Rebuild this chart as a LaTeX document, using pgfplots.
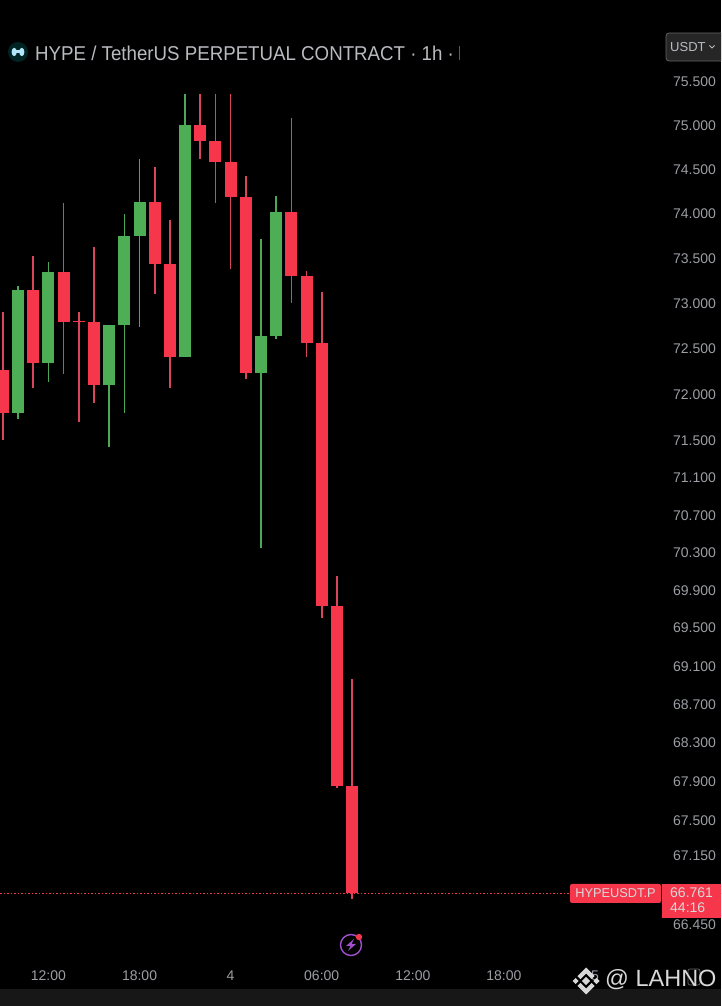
\documentclass[border=0pt]{standalone}
\usepackage{fontspec}
\setmainfont{Liberation Sans}
\newfontfamily\titlefont[FakeStretch=0.935]{Liberation Sans}
\usepackage{pgfplots}
\pgfplotsset{compat=1.18}
\definecolor{cred}{HTML}{F5364B}
\definecolor{wred}{HTML}{D9455A}
\definecolor{cgreen}{HTML}{4DAE55}
\definecolor{wgreen}{HTML}{4DA855}
\definecolor{axtxt}{HTML}{9C9EA3}
\definecolor{titletxt}{HTML}{B9BBC0}
\definecolor{bolt}{HTML}{A04FD0}
\definecolor{wm}{HTML}{D8D8D8}
% candle: colour family, hour, low, high, body bottom, body top
\newcommand\candle[6]{%
  \addplot[w#1,line width=1.6pt,forget plot] coordinates {(#2,#3)(#2,#4)};
  \addplot[c#1,line width=12pt,forget plot] coordinates {(#2,#5)(#2,#6)};
}
\begin{document}
\begin{tikzpicture}[x=1pt,y=1pt]
\path[use as bounding box] (0,0) rectangle (721,1006);
\clip (0,0) rectangle (721,1006);
\fill[black] (0,0) rectangle (721,1006);
\fill[black!91!white] (0,0) rectangle (721,17);
\begin{axis}[
  at={(0,0)},anchor=south west,scale only axis,width=721pt,height=1006pt,
  xmin=8.81,xmax=56.30,ymin=65.628,ymax=76.432,
  y coord trafo/.code={\pgfmathparse{100*ln(#1)}},
  axis line style={draw=none},major tick length=0pt,minor tick length=0pt,
  xtick={12,18,24,30,36,42,48},
  xticklabels={12:00,18:00,4,06:00,12:00,18:00,5},
  xticklabel style={anchor=center,yshift=30.5pt,font=\fontsize{14}{14}\selectfont,text=axtxt},
  ytick={75.5,75,74.5,74,73.5,73,72.5,72,71.5,71.1,70.7,70.3,69.9,69.5,69.1,68.7,68.3,67.9,67.5,67.15,66.45},
  yticklabels={75.500,75.000,74.500,74.000,73.500,73.000,72.500,72.000,71.500,71.100,70.700,70.300,69.900,69.500,69.100,68.700,68.300,67.900,67.500,67.150,66.450},
  yticklabel pos=right,
  yticklabel style={anchor=east,xshift=-1.5pt,yshift=-0.5pt,font=\fontsize{14}{14}\selectfont,text=axtxt},
  clip=false,
]
% last price line
\addplot[cred,dash pattern=on 1.5pt off 2pt,line width=1pt,forget plot] coordinates {(8.81,66.761)(56.30,66.761)};
\candle{red}{9}{71.51}{72.91}{71.805}{72.27}
\candle{green}{10}{71.73}{73.195}{71.805}{73.15}
\candle{red}{11}{72.07}{73.53}{72.345}{73.15}
\candle{green}{12}{72.14}{73.465}{72.345}{73.345}
\candle{red}{13}{72.235}{74.125}{72.80}{73.345}
\candle{red}{14}{71.71}{72.91}{72.80}{72.815}
\candle{red}{15}{71.92}{73.64}{72.105}{72.80}
\candle{green}{16}{71.43}{72.765}{72.105}{72.765}
\candle{green}{17}{71.81}{74.00}{72.765}{73.76}
\candle{green}{18}{72.745}{74.611}{73.76}{74.136}
\candle{red}{19}{73.115}{74.527}{73.436}{74.136}
\candle{red}{20}{72.07}{73.936}{72.42}{73.436}
\candle{green}{21}{72.42}{75.37}{72.42}{75.007}
\candle{red}{22}{74.611}{75.37}{74.82}{75.007}
\candle{red}{23}{74.12}{75.37}{74.58}{74.82}
\candle{red}{24}{73.39}{75.37}{74.187}{74.58}
\candle{red}{25}{72.17}{74.433}{72.24}{74.187}
\candle{green}{26}{70.35}{73.725}{72.24}{72.645}
\candle{green}{27}{72.61}{74.195}{72.645}{74.02}
\candle{red}{28}{73.01}{75.075}{73.304}{74.02}
\candle{red}{29}{72.42}{73.37}{72.57}{73.304}
\candle{red}{30}{69.60}{73.13}{69.73}{72.57}
\candle{red}{31}{67.835}{70.05}{67.855}{69.73}
\candle{red}{32}{66.70}{68.96}{66.761}{67.855}
\end{axis}
% header
\fill[black!72!teal] (18,954) circle (10);
\fill[cyan!30!white] (14.2,954) ellipse (2.6 and 4.2);
\fill[cyan!30!white] (21.8,954) ellipse (2.6 and 4.2);
\fill[cyan!30!white] (14.2,952.5) rectangle (21.8,955.5);
\node[anchor=west,inner sep=0pt,text=titletxt,font=\titlefont\fontsize{20}{20}\selectfont] at (35,953) {HYPE / TetherUS PERPETUAL CONTRACT · 1h ·};
\draw[black!65!white,line width=0.8pt] (459,946) -- (459,960);
\draw[fill=black!85!white,draw=black!60!white,rounded corners=3pt,line width=0.7pt] (666,945) rectangle (725,973);
\node[anchor=west,inner sep=0pt,text=titletxt,font=\fontsize{13}{13}\selectfont] at (670,959) {USDT};
\draw[titletxt,line width=0.8pt] (709.5,960.5) -- (712,958) -- (714.5,960.5);
% price tags
\fill[cred,rounded corners=2pt] (570,103) rectangle (661,122);
\node[text=white!85!black,inner sep=0pt,font=\fontsize{12.8}{13}\selectfont] at (615.5,112.5) {HYPEUSDT.P};
\fill[cred] (662,88) rectangle (721,122);
\node[anchor=west,text=white!85!black,inner sep=0pt,font=\fontsize{14}{14}\selectfont] at (670,113) {66.761};
\node[anchor=west,text=white!85!black,inner sep=0pt,font=\fontsize{14}{14}\selectfont] at (670,98) {44:16};
% lightning icon
\draw[bolt,line width=1.4pt] (351,61) circle (10.5);
\fill[bolt] (354,67) -- (346,60) -- (350.5,60) -- (348,55) -- (356,62) -- (351.5,62) -- cycle;
\fill[cred] (359,69) circle (3.2);
% faint settings icon behind the watermark
\draw[black!60!white,rounded corners=2pt,line width=0.7pt] (688,21) rectangle (700,37);
% watermark
\begin{scope}[shift={(586,25)},fill=wm]
  \fill (0,-4.2) -- (4.2,0) -- (0,4.2) -- (-4.2,0) -- cycle;
  \fill (-13.5,0) -- (-10.4,3.1) -- (-7.3,0) -- (-10.4,-3.1) -- cycle;
  \fill (13.5,0) -- (10.4,3.1) -- (7.3,0) -- (10.4,-3.1) -- cycle;
  \fill (0,13.5) -- (8.6,4.9) -- (5.6,1.9) -- (0,7.5) -- (-5.6,1.9) -- (-8.6,4.9) -- cycle;
  \fill (0,-13.5) -- (8.6,-4.9) -- (5.6,-1.9) -- (0,-7.5) -- (-5.6,-1.9) -- (-8.6,-4.9) -- cycle;
\end{scope}
\node[anchor=west,inner sep=0pt,text=wm,font=\fontsize{23.5}{24}\selectfont] at (605,26) {@ LAHNO};
\end{tikzpicture}
\end{document}
